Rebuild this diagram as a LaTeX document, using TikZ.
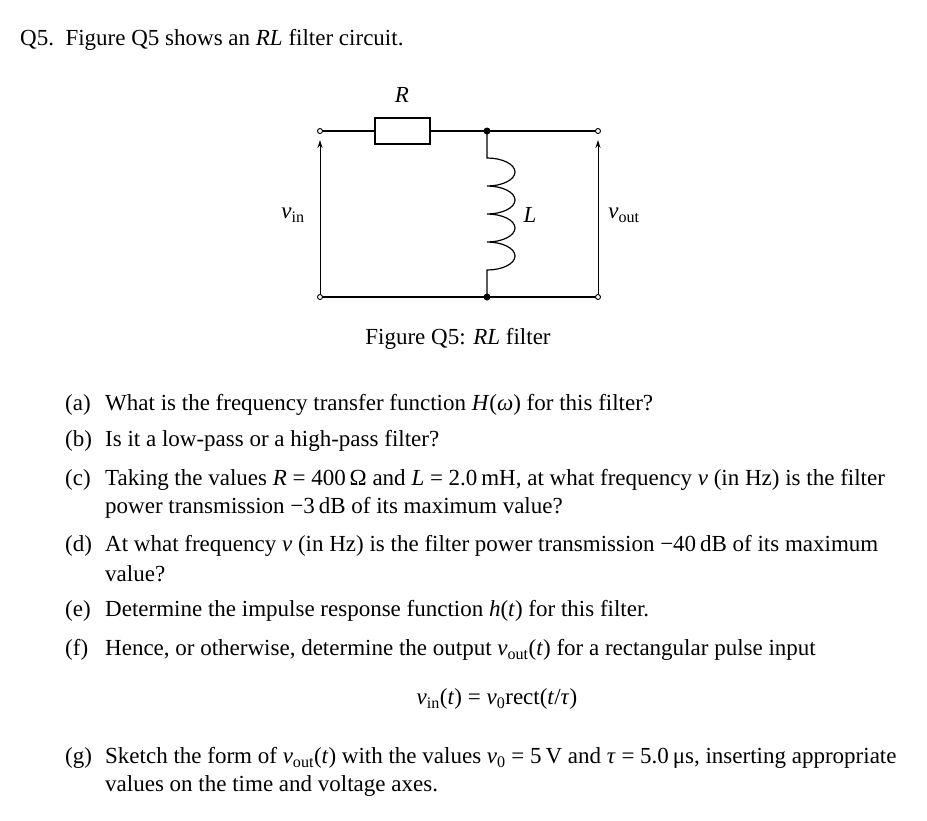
\documentclass[tikz,border=0pt]{standalone}
\usepackage{fontspec}
\setmainfont{Liberation Serif}
\usetikzlibrary{arrows.meta}
\newcommand{\vv}[1]{\textit{v}\textsubscript{#1}}
\begin{document}
\begin{tikzpicture}[x=1pt,y=-1pt,
  txt/.style={anchor=west,inner sep=0pt,font=\fontsize{23}{27}\selectfont},
  lbl/.style={inner sep=0pt,font=\fontsize{23}{27}\selectfont},
  wire/.style={line width=1.2pt},
  term/.style={circle,draw,fill=white,inner sep=0pt,minimum size=5pt,line width=0.9pt},
  dot/.style={circle,fill,inner sep=0pt,minimum size=7pt},
  varrow/.style={line width=0.9pt,-{Stealth[length=8pt,width=5pt]}}]
\useasboundingbox (0,0) rectangle (927,820);
\coordinate (tl) at (320,131); \coordinate (bl) at (320,297);
\coordinate (tj) at (487,131); \coordinate (bj) at (487,297);
\coordinate (tr) at (598,131); \coordinate (br) at (598,297);
\node[draw,line width=1.5pt,minimum width=55pt,minimum height=26pt,inner sep=0pt] (R) at (402.5,131) {};
\draw[wire] (tl) -- (R.west) (R.east) -- (tj) -- (tr);
\draw[wire] (bl) -- (bj) -- (br);
\draw[wire] (tj) -- (487,158) arc[start angle=-90,end angle=90,x radius=28,y radius=14]
  arc[start angle=-90,end angle=90,x radius=28,y radius=14]
  arc[start angle=-90,end angle=90,x radius=28,y radius=14]
  arc[start angle=-90,end angle=90,x radius=28,y radius=14] coordinate (lb) -- (bj);
\node[dot] at (tj) {}; \node[dot] at (bj) {};
\node[term] (t1) at (tl) {}; \node[term] (t2) at (bl) {};
\node[term] (t3) at (tr) {}; \node[term] (t4) at (br) {};
\draw[varrow] (t2) -- (320,140);
\draw[varrow] (t4) -- (598,140);
\node[lbl] at (293,215) {\vv{in}};
\node[lbl] at (624,215) {\vv{out}};
\node[lbl] at (530,215) {\textit{L}};
\node[lbl] at (402,95) {\textit{R}};
\node[lbl] at (458,339) {Figure Q5: \textit{RL} filter};
\node[txt] at (20,40) {Q5.\ \ Figure Q5 shows an \textit{RL} filter circuit.};
\foreach \y/\l in {405/(a),441/(b),480/(c),546/(d),611/(e),650/(f),758/(g)} \node[txt] at (65,\y) {\l};
\node[txt] at (105,405) {What is the frequency transfer function \textit{H}(\textit{ω}) for this filter?};
\node[txt] at (105,441) {Is it a low-pass or a high-pass filter?};
\node[txt] at (105,480) {Taking the values \textit{R} = 400\,Ω and \textit{L} = 2.0\,mH, at what frequency \textit{ν} (in Hz) is the filter};
\node[txt] at (105,508) {power transmission −3\,dB of its maximum value?};
\node[txt] at (105,546) {At what frequency \textit{ν} (in Hz) is the filter power transmission −40\,dB of its maximum};
\node[txt] at (105,574) {value?};
\node[txt] at (105,611) {Determine the impulse response function \textit{h}(\textit{t}) for this filter.};
\node[txt] at (105,650) {Hence, or otherwise, determine the output \vv{out}(\textit{t}) for a rectangular pulse input};
\node[lbl] at (497,699) {\vv{in}(\textit{t}) = \textit{v}\textsubscript{0}rect(\textit{t}/\textit{τ})};
\node[txt] at (105,758) {Sketch the form of \vv{out}(\textit{t}) with the values \textit{v}\textsubscript{0} = 5\,V and \textit{τ} = 5.0\,μs, inserting appropriate};
\node[txt] at (105,786) {values on the time and voltage axes.};
\end{tikzpicture}
\end{document}
